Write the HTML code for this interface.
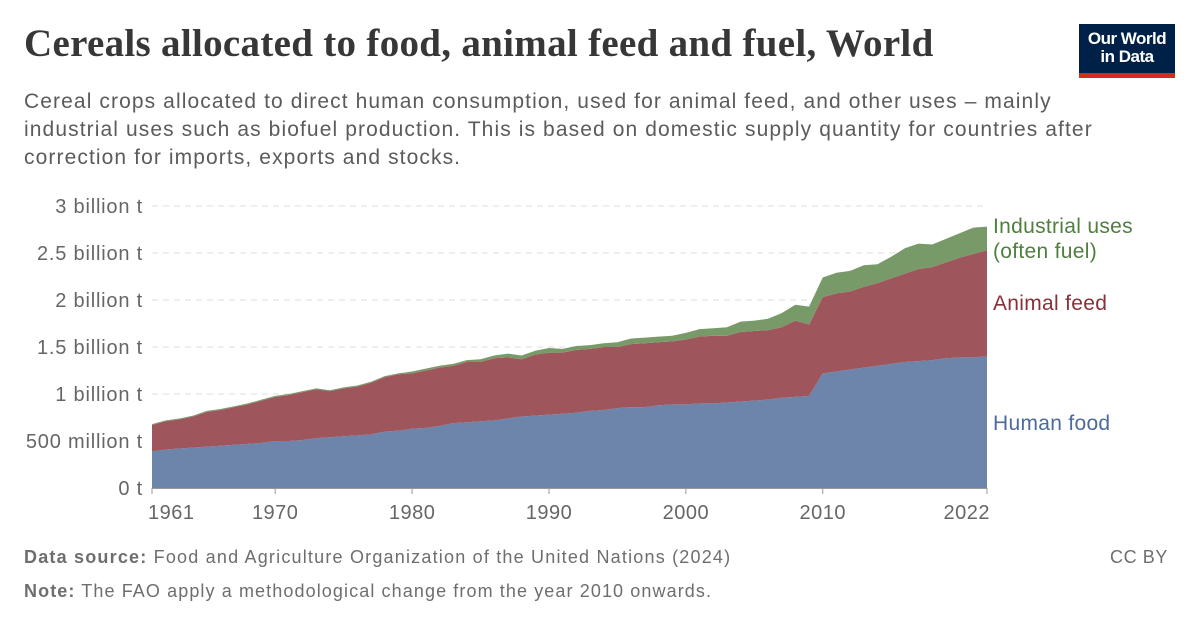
<!DOCTYPE html>
<html><head><meta charset="utf-8"><style>
body{margin:0;width:1200px;height:627px;background:#fff;overflow:hidden;font-family:"Liberation Sans",sans-serif;position:relative}
.t{position:absolute;white-space:nowrap}
</style></head><body>
<div class="t" style="left:24px;top:21px;font-family:'Liberation Serif',serif;font-weight:bold;font-size:39px;color:#373737;letter-spacing:0.3px">Cereals allocated to food, animal feed and fuel, World</div>
<div style="position:absolute;left:1079px;top:24px;width:96px;height:54px;background:#002147;border-bottom:5px solid #d42b21;box-sizing:border-box;color:#fff;font-weight:bold;font-size:17px;line-height:18px;text-align:center;padding-top:6px;letter-spacing:-0.5px">Our World<br>in Data</div>
<div class="t" style="left:24px;top:88px;font-size:21px;line-height:28px;color:#5b5b5b;letter-spacing:1.1px">Cereal crops allocated to direct human consumption, used for animal feed, and other uses – mainly<br>industrial uses such as biofuel production. This is based on domestic supply quantity for countries after<br>correction for imports, exports and stocks.</div>
<svg id="chart" width="1200" height="627" style="position:absolute;left:0;top:0"></svg>
<div class="t" style="left:24px;top:547px;font-size:18px;color:#6e6e6e;letter-spacing:1.2px"><b>Data source:</b> Food and Agriculture Organization of the United Nations (2024)</div>
<div class="t" style="left:1110px;top:547px;font-size:18px;color:#6e6e6e;letter-spacing:0.6px">CC BY</div>
<div class="t" style="left:24px;top:581px;font-size:18px;color:#6e6e6e;letter-spacing:1.1px"><b>Note:</b> The FAO apply a methodological change from the year 2010 onwards.</div>
<script>
const years=[];for(let y=1961;y<=2022;y++)years.push(y);
const food=[.39,.41,.42,.43,.44,.45,.46,.47,.48,.50,.50,.51,.53,.54,.55,.56,.57,.60,.61,.63,.64,.66,.69,.70,.71,.72,.74,.76,.77,.78,.79,.80,.82,.83,.85,.86,.86,.88,.89,.89,.90,.90,.91,.92,.93,.94,.96,.97,.98,1.22,1.24,1.26,1.28,1.30,1.32,1.34,1.35,1.36,1.38,1.39,1.39,1.40];
const feed=[.28,.30,.31,.33,.37,.38,.40,.42,.45,.47,.49,.51,.52,.49,.51,.52,.55,.58,.60,.59,.61,.62,.61,.64,.63,.66,.65,.61,.65,.66,.65,.67,.66,.67,.65,.67,.68,.67,.67,.69,.71,.72,.71,.74,.74,.74,.75,.81,.76,.81,.83,.83,.86,.88,.91,.94,.98,.99,1.02,1.06,1.10,1.13];
const industrial=[.01,.01,.01,.01,.01,.01,.01,.01,.01,.01,.01,.01,.01,.01,.01,.01,.01,.01,.01,.02,.02,.02,.02,.02,.03,.03,.04,.04,.04,.05,.04,.04,.04,.04,.05,.06,.06,.06,.06,.07,.08,.08,.09,.11,.11,.12,.15,.17,.19,.21,.22,.22,.23,.20,.23,.27,.27,.24,.25,.26,.28,.25];
const yTicks=[0,0.5,1,1.5,2,2.5,3];
const yTickLabels=["0 t","500 million t","1 billion t","1.5 billion t","2 billion t","2.5 billion t","3 billion t"];
const xTicks=[1961,1970,1980,1990,2000,2010,2022];
const series=[{name:"human-food",vals:food,fill:"#6d84ab",label:"Human food",lc:"#4c6a9c",ly:430},
{name:"animal-feed",vals:feed,fill:"#9e565c",label:"Animal feed",lc:"#883039",ly:310},
{name:"industrial-uses",vals:industrial,fill:"#789a69",label:"Industrial uses|(often fuel)",lc:"#4f7f3f",ly:233}];
const X=y=>152+(y-1961)*(987-152)/(2022-1961);
const Y=v=>488-v*94;
const svg=document.getElementById('chart');const NS="http://www.w3.org/2000/svg";
function mk(t,a){const e=document.createElementNS(NS,t);for(const k in a)e.setAttribute(k,a[k]);svg.appendChild(e);return e;}
yTicks.forEach((v,i)=>{
 if(v>0){const l=mk('line',{x1:152,x2:987,y1:Y(v),y2:Y(v),stroke:'#ddd','stroke-dasharray':'6,5'});
 
 }
 const t=mk('text',{x:143,y:Y(v)+7,'text-anchor':'end','font-size':20,'letter-spacing':0.8,fill:'#666','font-family':'Liberation Sans'});t.textContent=yTickLabels[i];
 
 
});
let base=years.map(()=>0);
series.forEach(s=>{
 const top=base.map((b,i)=>b+s.vals[i]);
 let d='M'+years.map((y,i)=>X(y)+','+Y(top[i])).join('L');
 for(let i=years.length-1;i>=0;i--)d+='L'+X(years[i])+','+Y(base[i]);
 const p=mk('path',{d:d+'Z',fill:s.fill});
 
 
 base=top;
 const t=mk('text',{x:993,y:s.ly,'font-size':21,'letter-spacing':0.3,fill:s.lc,'font-family':'Liberation Sans'});
 
 
 s.label.split('|').forEach((ln,j)=>{const ts=document.createElementNS(NS,'tspan');ts.setAttribute('x',993);ts.setAttribute('dy',j?25:0);ts.textContent=ln;t.appendChild(ts);});
});
const ax=mk('line',{x1:152,x2:987,y1:488.5,y2:488.5,stroke:'#999'});


xTicks.forEach(y=>{
 const tk=mk('line',{x1:X(y),x2:X(y),y1:488,y2:494,stroke:'#999'});
 
 
 const anchor=y===1961?'start':(y===2022?'end':'middle');
 const t=mk('text',{x:y===1961?X(y)-4:(y===2022?X(y)+3:X(y)),y:519,'text-anchor':anchor,'font-size':20,'letter-spacing':0.5,fill:'#666','font-family':'Liberation Sans'});
 t.textContent=y;
 
 
});
</script>
</body></html>
